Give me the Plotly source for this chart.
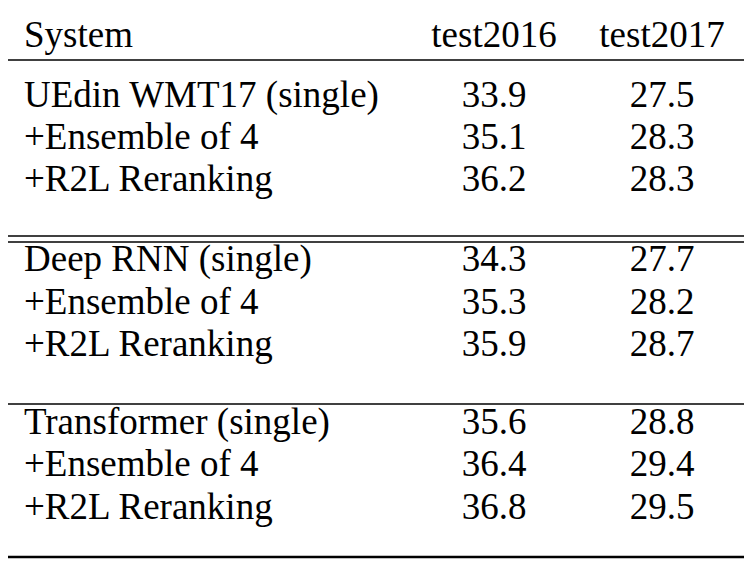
import plotly.graph_objects as go

header = ["System", "test2016", "test2017"]
systems = ["UEdin WMT17 (single)", "+Ensemble of 4", "+R2L Reranking",
           "Deep RNN (single)", "+Ensemble of 4", "+R2L Reranking",
           "Transformer (single)", "+Ensemble of 4", "+R2L Reranking"]
test2016 = [33.9, 35.1, 36.2, 34.3, 35.3, 35.9, 35.6, 36.4, 36.8]
test2017 = [27.5, 28.3, 28.3, 27.7, 28.2, 28.7, 28.8, 29.4, 29.5]

# layout (pixel coordinates)
row_y = [98, 140, 182, 262, 305, 347, 425, 467, 510]
header_y = 38
x_sys, x_a, x_b = 24, 494, 662
font = dict(family="Liberation Serif", size=37, color="black")

fig = go.Figure()
fig.add_trace(go.Scatter(x=[x_sys] * len(systems), y=row_y, text=systems, mode="text",
                         textposition="middle right", textfont=font, hoverinfo="skip"))
fig.add_trace(go.Scatter(x=[x_a] * len(test2016), y=row_y, text=[f"{v:.1f}" for v in test2016],
                         mode="text", textposition="middle center", textfont=font, hoverinfo="skip"))
fig.add_trace(go.Scatter(x=[x_b] * len(test2017), y=row_y, text=[f"{v:.1f}" for v in test2017],
                         mode="text", textposition="middle center", textfont=font, hoverinfo="skip"))
fig.add_trace(go.Scatter(x=[x_sys, x_a, x_b], y=[header_y] * 3, text=header, mode="text",
                         textposition=["middle right", "middle center", "middle center"],
                         textfont=font, hoverinfo="skip"))

for y, w in [(3, 2.6), (60, 1.4), (236, 1.4), (242, 1.4), (404, 1.4), (557, 2.6)]:
    fig.add_shape(type="line", x0=2, x1=750, y0=y, y1=y, line=dict(color="black", width=w))

# page body has an ~8px margin; offset the visible window to compensate
fig.update_xaxes(range=[8, 760], visible=False)
fig.update_yaxes(range=[569, 8], visible=False)
fig.update_layout(width=752, height=561, margin=dict(l=0, r=0, t=0, b=0),
                  showlegend=False, plot_bgcolor="white", paper_bgcolor="white")
fig.write_html("out.html")
